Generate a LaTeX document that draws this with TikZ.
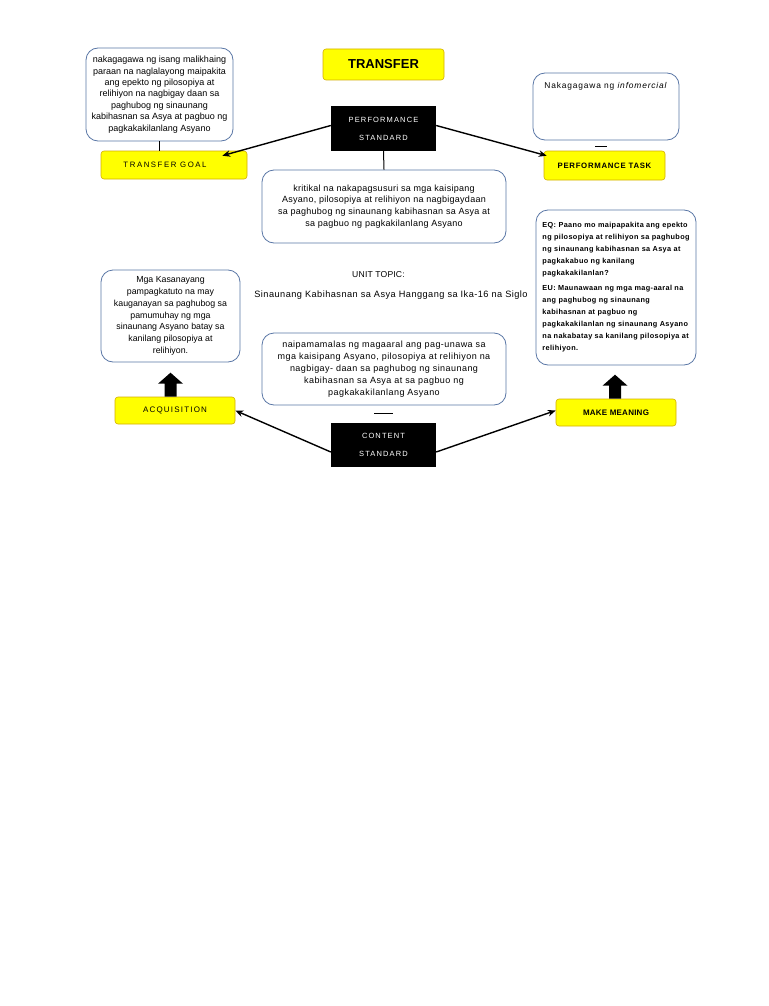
\documentclass[tikz,border=0pt]{standalone}
\usepackage{fontspec}
\setmainfont{Liberation Sans}
\usetikzlibrary{arrows.meta,calc}
\definecolor{boxline}{HTML}{5A77A6}
\definecolor{ylw}{HTML}{FFFF00}
\definecolor{ylwline}{HTML}{D4AE00}
\tikzset{
  txtbox/.style={draw=boxline, line width=0.8pt, rounded corners=12pt, fill=white, align=center, inner sep=0pt},
  ylabel/.style={fill=ylw, draw=ylwline, line width=0.6pt, rounded corners=3pt, inner sep=0pt,
    font=\fontsize{7.6}{9}\selectfont\addfontfeature{LetterSpace=8}},
  blabel/.style={fill=black, text=white, inner sep=0pt, align=center,
    font=\fontsize{7.5}{18}\selectfont\addfontfeature{LetterSpace=15}},
  conn/.style={line width=1.4pt, -{Stealth[length=8pt,width=6.5pt]}},
  tie/.style={line width=1pt},
  stub/.style={line width=1.8pt}
}
\begin{document}
\begin{tikzpicture}[x=1pt,y=-1pt]
\useasboundingbox (0,0) rectangle (768,1006);
\fill[white] (0,0) rectangle (768,1006);

% top row
\node[txtbox, minimum width=147, minimum height=93, font=\fontsize{9}{11.4}\selectfont] (tgtext) at (159.5,94.5)
  {nakagagawa ng isang malikhaing\\paraan na naglalayong maipakita\\ang epekto ng pilosopiya at\\relihiyon na nagbigay daan sa\\paghubog ng sinaunang\\kabihasnan sa Asya at pagbuo ng\\pagkakakilanlang Asyano};
\node[fill=ylw, draw=ylwline, line width=0.6pt, rounded corners=3pt, minimum width=121, minimum height=31, inner sep=0pt,
  font=\fontsize{13}{14}\selectfont\bfseries] (transfer) at (383.5,64.5) {TRANSFER};
\node[blabel, minimum width=105, minimum height=45] (ps) at (383.5,128.5) {PERFORMANCE\\STANDARD};
\node[ylabel, minimum width=146, minimum height=28, font=\fontsize{7.8}{9}\selectfont\addfontfeature{LetterSpace=20}] (tgoal) at (174,165) {TRANSFER GOAL\hspace*{18pt}};
\node[txtbox, minimum width=146, text height=16pt, text depth=51pt, font=\fontsize{8.4}{10}\selectfont\addfontfeature{LetterSpace=10}] (ptext) at (606,106.5)
  {Nakagagawa ng \textit{infomercial}};
\node[ylabel, font=\fontsize{7.8}{9}\selectfont\bfseries\addfontfeature{LetterSpace=9}, minimum width=121, minimum height=29] (ptask) at (604.5,165.5) {PERFORMANCE TASK};

% middle
\node[txtbox, minimum width=244, minimum height=73, font=\fontsize{9}{11.7}\selectfont\addfontfeature{LetterSpace=3}] (krit) at (384,206.5)
  {kritikal na nakapagsusuri sa mga kaisipang\\Asyano, pilosopiya at relihiyon na nagbigaydaan\\sa paghubog ng sinaunang kabihasnan sa Asya at\\sa pagbuo ng pagkakilanlang Asyano};
\node[txtbox, minimum width=139, minimum height=92, font=\fontsize{8.8}{11.8}\selectfont\addfontfeature{LetterSpace=0}] (mga) at (170.5,316)
  {Mga Kasanayang\\pampagkatuto na may\\kauganayan sa paghubog sa\\pamumuhay ng mga\\sinaunang Asyano batay sa\\kanilang pilosopiya at\\relihiyon.};
\node[font=\fontsize{8.6}{10}\selectfont\addfontfeature{LetterSpace=2}, inner sep=0pt] (ut) at (378.5,275) {UNIT TOPIC:};
\node[font=\fontsize{9.2}{10}\selectfont\addfontfeature{LetterSpace=5}, inner sep=0pt] (utname) at (391,295) {Sinaunang Kabihasnan sa Asya Hanggang sa Ika-16 na Siglo};
\node[txtbox, minimum width=160, minimum height=155, align=left,
  font=\fontsize{7.3}{12}\selectfont\bfseries\addfontfeature{LetterSpace=5}] (eq) at (616,287.5)
  {EQ: Paano mo maipapakita ang epekto\\ng pilosopiya at relihiyon sa paghubog\\ng sinaunang kabihasnan sa Asya at\\pagkakabuo ng kanilang\\pagkakakilanlan?\\[3pt]EU: Maunawaan ng mga mag-aaral na\\ang paghubog ng sinaunang\\kabihasnan at pagbuo ng\\pagkakakilanlan ng sinaunang Asyano\\na nakabatay sa kanilang pilosopiya at\\relihiyon.};
\node[txtbox, minimum width=244, minimum height=72, font=\fontsize{9}{12}\selectfont\addfontfeature{LetterSpace=5}] (nai) at (384,369)
  {naipamamalas ng magaaral ang pag-unawa sa\\mga kaisipang Asyano, pilosopiya at relihiyon na\\nagbigay- daan sa paghubog ng sinaunang\\kabihasnan sa Asya at sa pagbuo ng\\pagkakakilanlang Asyano};

% bottom row
\node[ylabel, minimum width=120, minimum height=27, font=\fontsize{8}{9}\selectfont\addfontfeature{LetterSpace=15}] (acq) at (175,410.5) {ACQUISITION};
\node[blabel, minimum width=105, minimum height=44] (cs) at (383.5,445) {CONTENT\\STANDARD};
\node[ylabel, minimum width=120, minimum height=27, font=\fontsize{8}{9}\selectfont\bfseries\addfontfeature{LetterSpace=3}] (mm) at (616,412.5) {MAKE MEANING};

% connectors
\draw[tie] (tgtext.south) -- (tgtext.south |- tgoal.north);
\draw[tie] (ps.south) -- (krit.north);
\draw[conn] ([yshift=3pt]ps.west) -- ([xshift=-25pt,yshift=-5pt]tgoal.north east);
\draw[conn] ([yshift=3pt]ps.east) -- ([xshift=3pt,yshift=-5pt]ptask.north west);
\draw[conn] ([yshift=-7pt]cs.west) -- (acq.east);
\draw[conn] ([yshift=-7pt]cs.east) -- ([yshift=2pt]mm.west);
\draw[stub] ([xshift=-11pt,yshift=-6pt]ptext.south) -- ++(12,0);
\draw[stub] ([xshift=-10pt,yshift=-8pt]nai.south) -- ++(19,0);

% block arrows
\fill ($(mga.south |- acq.north)+(-6,0)$) -- ++(0,-13) -- ++(-6.5,0) -- ++(12.5,-11) -- ++(12.5,11) -- ++(-6.5,0) -- ++(0,13) -- cycle;
\fill ($(eq.south |- mm.north)+(-7,0)$) -- ++(0,-13) -- ++(-6.5,0) -- ++(12.5,-11) -- ++(12.5,11) -- ++(-6.5,0) -- ++(0,13) -- cycle;
\end{tikzpicture}
\end{document}
